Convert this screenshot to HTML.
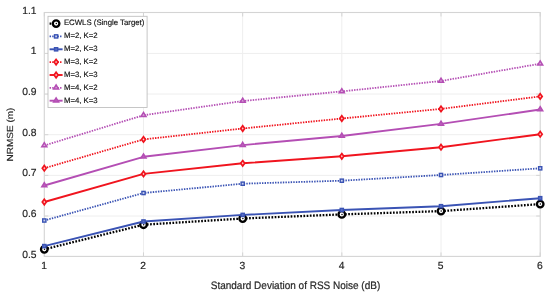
<!DOCTYPE html>
<html><head><meta charset="utf-8"><title>NRMSE vs Standard Deviation of RSS Noise</title>
<style>
html,body{margin:0;padding:0;background:#fff;}
body{width:550px;height:295px;overflow:hidden;}
svg{display:block;}
text{font-family:"Liberation Sans",Arial,sans-serif;fill:#262626;text-rendering:geometricPrecision;}
.tk{font-size:10.3px;stroke:#262626;stroke-width:0.2px;}
.tky{letter-spacing:0px;}
.ax{font-size:10px;stroke:#262626;stroke-width:0.18px;}
.lg{font-size:7.8px;fill:#111;stroke:#111;stroke-width:0.15px;}
</style></head><body>
<svg width="550" height="295" viewBox="0 0 550 295">
<rect width="550" height="295" fill="#fff"/>
<g stroke="#eeeeee" stroke-width="1"><line x1="44.3" y1="216.00" x2="540.2" y2="216.00"/><line x1="44.3" y1="175.35" x2="540.2" y2="175.35"/><line x1="44.3" y1="134.70" x2="540.2" y2="134.70"/><line x1="44.3" y1="94.05" x2="540.2" y2="94.05"/><line x1="44.3" y1="53.40" x2="540.2" y2="53.40"/><line x1="143.48" y1="12.5" x2="143.48" y2="256.4"/><line x1="242.66" y1="12.5" x2="242.66" y2="256.4"/><line x1="341.84" y1="12.5" x2="341.84" y2="256.4"/><line x1="441.02" y1="12.5" x2="441.02" y2="256.4"/></g>
<rect x="44.3" y="12.5" width="495.90000000000003" height="243.89999999999998" fill="none" stroke="#d4d4d4" stroke-width="1.1"/>
<g stroke="#d4d4d4" stroke-width="1"><line x1="44.3" y1="256.40" x2="48.3" y2="256.40"/><line x1="540.2" y1="256.40" x2="536.2" y2="256.40"/><line x1="44.3" y1="216.00" x2="48.3" y2="216.00"/><line x1="540.2" y1="216.00" x2="536.2" y2="216.00"/><line x1="44.3" y1="175.35" x2="48.3" y2="175.35"/><line x1="540.2" y1="175.35" x2="536.2" y2="175.35"/><line x1="44.3" y1="134.70" x2="48.3" y2="134.70"/><line x1="540.2" y1="134.70" x2="536.2" y2="134.70"/><line x1="44.3" y1="94.05" x2="48.3" y2="94.05"/><line x1="540.2" y1="94.05" x2="536.2" y2="94.05"/><line x1="44.3" y1="53.40" x2="48.3" y2="53.40"/><line x1="540.2" y1="53.40" x2="536.2" y2="53.40"/><line x1="44.3" y1="12.50" x2="48.3" y2="12.50"/><line x1="540.2" y1="12.50" x2="536.2" y2="12.50"/><line x1="44.30" y1="256.4" x2="44.30" y2="252.39999999999998"/><line x1="44.30" y1="12.5" x2="44.30" y2="16.5"/><line x1="143.48" y1="256.4" x2="143.48" y2="252.39999999999998"/><line x1="143.48" y1="12.5" x2="143.48" y2="16.5"/><line x1="242.66" y1="256.4" x2="242.66" y2="252.39999999999998"/><line x1="242.66" y1="12.5" x2="242.66" y2="16.5"/><line x1="341.84" y1="256.4" x2="341.84" y2="252.39999999999998"/><line x1="341.84" y1="12.5" x2="341.84" y2="16.5"/><line x1="441.02" y1="256.4" x2="441.02" y2="252.39999999999998"/><line x1="441.02" y1="12.5" x2="441.02" y2="16.5"/><line x1="540.20" y1="256.4" x2="540.20" y2="252.39999999999998"/><line x1="540.20" y1="12.5" x2="540.20" y2="16.5"/></g>
<text class="tk tky" x="36.5" y="257.55" text-anchor="end">0.5</text>
<text class="tk tky" x="36.5" y="216.90" text-anchor="end">0.6</text>
<text class="tk tky" x="36.5" y="176.25" text-anchor="end">0.7</text>
<text class="tk tky" x="36.5" y="135.60" text-anchor="end">0.8</text>
<text class="tk tky" x="36.5" y="94.95" text-anchor="end">0.9</text>
<text class="tk tky" x="36.5" y="54.30" text-anchor="end">1</text>
<text class="tk tky" x="36.5" y="13.65" text-anchor="end">1.1</text>
<text class="tk" x="44.0" y="269.0" text-anchor="middle">1</text>
<text class="tk" x="143.2" y="269.0" text-anchor="middle">2</text>
<text class="tk" x="242.4" y="269.0" text-anchor="middle">3</text>
<text class="tk" x="341.5" y="269.0" text-anchor="middle">4</text>
<text class="tk" x="440.7" y="269.0" text-anchor="middle">5</text>
<text class="tk" x="539.9" y="269.0" text-anchor="middle">6</text>
<text class="ax" transform="translate(295.5,288.75) scale(1,1.08)" text-anchor="middle">Standard Deviation of RSS Noise (dB)</text>
<text class="ax" transform="translate(13.1,134.5) rotate(-90) scale(1,0.88)" text-anchor="middle">NRMSE (m)</text>
<polyline points="44.3,249.3 143.5,224.7 242.7,218.5 341.8,214.4 441.0,211.1 540.2,204.1" fill="none" stroke="#000" stroke-width="2.3" stroke-dasharray="1.7 1.5" stroke-linejoin="round"/>
<circle cx="44.3" cy="249.3" r="3.3" fill="#fff" stroke="#000" stroke-width="2.3"/><circle cx="44.5" cy="249.3" r="0.75" fill="#000"/><circle cx="143.5" cy="224.7" r="3.3" fill="#fff" stroke="#000" stroke-width="2.3"/><circle cx="143.7" cy="224.7" r="0.75" fill="#000"/><circle cx="242.7" cy="218.5" r="3.3" fill="#fff" stroke="#000" stroke-width="2.3"/><circle cx="242.9" cy="218.5" r="0.75" fill="#000"/><circle cx="341.8" cy="214.4" r="3.3" fill="#fff" stroke="#000" stroke-width="2.3"/><circle cx="342.0" cy="214.4" r="0.75" fill="#000"/><circle cx="441.0" cy="211.1" r="3.3" fill="#fff" stroke="#000" stroke-width="2.3"/><circle cx="441.2" cy="211.1" r="0.75" fill="#000"/><circle cx="540.2" cy="204.1" r="3.3" fill="#fff" stroke="#000" stroke-width="2.3"/><circle cx="540.4" cy="204.1" r="0.75" fill="#000"/>
<polyline points="44.3,220.5 143.5,193.0 242.7,183.7 341.8,180.7 441.0,175.0 540.2,168.3" fill="none" stroke="#3a53b4" stroke-width="1.8" stroke-dasharray="1.44 1.17" stroke-linejoin="round"/>
<rect x="42.7" y="218.9" width="3.2" height="3.2" fill="#c9d1ee" stroke="#3a53b4" stroke-width="1.4"/><rect x="141.9" y="191.4" width="3.2" height="3.2" fill="#c9d1ee" stroke="#3a53b4" stroke-width="1.4"/><rect x="241.1" y="182.1" width="3.2" height="3.2" fill="#c9d1ee" stroke="#3a53b4" stroke-width="1.4"/><rect x="340.2" y="179.1" width="3.2" height="3.2" fill="#c9d1ee" stroke="#3a53b4" stroke-width="1.4"/><rect x="439.4" y="173.4" width="3.2" height="3.2" fill="#c9d1ee" stroke="#3a53b4" stroke-width="1.4"/><rect x="538.6" y="166.7" width="3.2" height="3.2" fill="#c9d1ee" stroke="#3a53b4" stroke-width="1.4"/>
<polyline points="44.3,246.1 143.5,221.5 242.7,214.9 341.8,210.0 441.0,206.2 540.2,198.2" fill="none" stroke="#3a53b4" stroke-width="1.9" stroke-linejoin="round"/>
<rect x="42.7" y="244.5" width="3.2" height="3.2" fill="#5a70c4" stroke="#3a53b4" stroke-width="1.4"/><rect x="141.9" y="219.9" width="3.2" height="3.2" fill="#5a70c4" stroke="#3a53b4" stroke-width="1.4"/><rect x="241.1" y="213.3" width="3.2" height="3.2" fill="#5a70c4" stroke="#3a53b4" stroke-width="1.4"/><rect x="340.2" y="208.4" width="3.2" height="3.2" fill="#5a70c4" stroke="#3a53b4" stroke-width="1.4"/><rect x="439.4" y="204.6" width="3.2" height="3.2" fill="#5a70c4" stroke="#3a53b4" stroke-width="1.4"/><rect x="538.6" y="196.6" width="3.2" height="3.2" fill="#5a70c4" stroke="#3a53b4" stroke-width="1.4"/>
<polyline points="44.3,168.2 143.5,139.4 242.7,128.5 341.8,118.5 441.0,108.9 540.2,96.4" fill="none" stroke="#f0141e" stroke-width="1.8" stroke-dasharray="1.44 1.17" stroke-linejoin="round"/>
<path d="M44.3 165.5L46.3 168.2L44.3 170.9L42.3 168.2Z" fill="#ffc8c8" stroke="#f0141e" stroke-width="1.7" stroke-linejoin="miter"/><path d="M143.5 136.7L145.5 139.4L143.5 142.1L141.5 139.4Z" fill="#ffc8c8" stroke="#f0141e" stroke-width="1.7" stroke-linejoin="miter"/><path d="M242.7 125.8L244.7 128.5L242.7 131.2L240.7 128.5Z" fill="#ffc8c8" stroke="#f0141e" stroke-width="1.7" stroke-linejoin="miter"/><path d="M341.8 115.8L343.8 118.5L341.8 121.2L339.8 118.5Z" fill="#ffc8c8" stroke="#f0141e" stroke-width="1.7" stroke-linejoin="miter"/><path d="M441.0 106.2L443.0 108.9L441.0 111.6L439.0 108.9Z" fill="#ffc8c8" stroke="#f0141e" stroke-width="1.7" stroke-linejoin="miter"/><path d="M540.2 93.7L542.2 96.4L540.2 99.1L538.2 96.4Z" fill="#ffc8c8" stroke="#f0141e" stroke-width="1.7" stroke-linejoin="miter"/>
<polyline points="44.3,202.0 143.5,173.9 242.7,163.3 341.8,156.3 441.0,147.2 540.2,134.2" fill="none" stroke="#f0141e" stroke-width="1.9" stroke-linejoin="round"/>
<path d="M44.3 199.3L46.3 202.0L44.3 204.7L42.3 202.0Z" fill="#ffc8c8" stroke="#f0141e" stroke-width="1.7" stroke-linejoin="miter"/><path d="M143.5 171.2L145.5 173.9L143.5 176.6L141.5 173.9Z" fill="#ffc8c8" stroke="#f0141e" stroke-width="1.7" stroke-linejoin="miter"/><path d="M242.7 160.6L244.7 163.3L242.7 166.0L240.7 163.3Z" fill="#ffc8c8" stroke="#f0141e" stroke-width="1.7" stroke-linejoin="miter"/><path d="M341.8 153.6L343.8 156.3L341.8 159.0L339.8 156.3Z" fill="#ffc8c8" stroke="#f0141e" stroke-width="1.7" stroke-linejoin="miter"/><path d="M441.0 144.5L443.0 147.2L441.0 149.9L439.0 147.2Z" fill="#ffc8c8" stroke="#f0141e" stroke-width="1.7" stroke-linejoin="miter"/><path d="M540.2 131.5L542.2 134.2L540.2 136.9L538.2 134.2Z" fill="#ffc8c8" stroke="#f0141e" stroke-width="1.7" stroke-linejoin="miter"/>
<polyline points="44.3,145.5 143.5,115.2 242.7,101.0 341.8,91.4 441.0,81.0 540.2,63.7" fill="none" stroke="#b44eb4" stroke-width="1.8" stroke-dasharray="1.44 1.17" stroke-linejoin="round"/>
<path d="M44.3 142.7L46.8 146.8L41.8 146.8Z" fill="#dcaedc" stroke="#b44eb4" stroke-width="1.5" stroke-linejoin="miter"/><path d="M143.5 112.4L146.0 116.5L141.0 116.5Z" fill="#dcaedc" stroke="#b44eb4" stroke-width="1.5" stroke-linejoin="miter"/><path d="M242.7 98.2L245.2 102.3L240.2 102.3Z" fill="#dcaedc" stroke="#b44eb4" stroke-width="1.5" stroke-linejoin="miter"/><path d="M341.8 88.6L344.3 92.7L339.3 92.7Z" fill="#dcaedc" stroke="#b44eb4" stroke-width="1.5" stroke-linejoin="miter"/><path d="M441.0 78.2L443.5 82.3L438.5 82.3Z" fill="#dcaedc" stroke="#b44eb4" stroke-width="1.5" stroke-linejoin="miter"/><path d="M540.2 60.9L542.7 65.0L537.7 65.0Z" fill="#dcaedc" stroke="#b44eb4" stroke-width="1.5" stroke-linejoin="miter"/>
<polyline points="44.3,185.5 143.5,156.8 242.7,145.1 341.8,136.0 441.0,123.9 540.2,109.5" fill="none" stroke="#b44eb4" stroke-width="1.9" stroke-linejoin="round"/>
<path d="M44.3 182.7L46.8 186.8L41.8 186.8Z" fill="#bc62bc" stroke="#b44eb4" stroke-width="1.5" stroke-linejoin="miter"/><path d="M143.5 154.0L146.0 158.1L141.0 158.1Z" fill="#bc62bc" stroke="#b44eb4" stroke-width="1.5" stroke-linejoin="miter"/><path d="M242.7 142.3L245.2 146.4L240.2 146.4Z" fill="#bc62bc" stroke="#b44eb4" stroke-width="1.5" stroke-linejoin="miter"/><path d="M341.8 133.2L344.3 137.3L339.3 137.3Z" fill="#bc62bc" stroke="#b44eb4" stroke-width="1.5" stroke-linejoin="miter"/><path d="M441.0 121.1L443.5 125.2L438.5 125.2Z" fill="#bc62bc" stroke="#b44eb4" stroke-width="1.5" stroke-linejoin="miter"/><path d="M540.2 106.7L542.7 110.8L537.7 110.8Z" fill="#bc62bc" stroke="#b44eb4" stroke-width="1.5" stroke-linejoin="miter"/>
<rect x="48.0" y="16.3" width="99.1" height="91.2" fill="#fff" stroke="#c0c0c0" stroke-width="0.9"/>
<line x1="49.6" y1="23.6" x2="60.0" y2="23.6" stroke="#000" stroke-width="2.3" stroke-dasharray="1.7 1.5"/>
<circle cx="56.1" cy="23.6" r="3.3" fill="#fff" stroke="#000" stroke-width="2.3"/><circle cx="56.3" cy="23.6" r="0.75" fill="#000"/>
<text class="lg" x="63.9" y="25.4">ECWLS (Single Target)</text>
<line x1="49.6" y1="36.4" x2="62.6" y2="36.4" stroke="#3a53b4" stroke-width="1.8" stroke-dasharray="1.44 1.17"/>
<rect x="54.5" y="34.8" width="3.2" height="3.2" fill="#c9d1ee" stroke="#3a53b4" stroke-width="1.4"/>
<text class="lg" x="63.9" y="38.2">M=2, K=2</text>
<line x1="49.6" y1="49.3" x2="62.6" y2="49.3" stroke="#3a53b4" stroke-width="1.9"/>
<rect x="54.5" y="47.7" width="3.2" height="3.2" fill="#5a70c4" stroke="#3a53b4" stroke-width="1.4"/>
<text class="lg" x="63.9" y="51.1">M=2, K=3</text>
<line x1="49.6" y1="62.1" x2="62.6" y2="62.1" stroke="#f0141e" stroke-width="1.8" stroke-dasharray="1.44 1.17"/>
<path d="M56.1 59.4L58.1 62.1L56.1 64.8L54.1 62.1Z" fill="#ffc8c8" stroke="#f0141e" stroke-width="1.7" stroke-linejoin="miter"/>
<text class="lg" x="63.9" y="63.9">M=3, K=2</text>
<line x1="49.6" y1="75.0" x2="62.6" y2="75.0" stroke="#f0141e" stroke-width="1.9"/>
<path d="M56.1 72.3L58.1 75.0L56.1 77.7L54.1 75.0Z" fill="#ffc8c8" stroke="#f0141e" stroke-width="1.7" stroke-linejoin="miter"/>
<text class="lg" x="63.9" y="76.8">M=3, K=3</text>
<line x1="49.6" y1="87.8" x2="62.6" y2="87.8" stroke="#b44eb4" stroke-width="1.8" stroke-dasharray="1.44 1.17"/>
<path d="M56.1 85.0L58.6 89.1L53.6 89.1Z" fill="#dcaedc" stroke="#b44eb4" stroke-width="1.5" stroke-linejoin="miter"/>
<text class="lg" x="63.9" y="89.6">M=4, K=2</text>
<line x1="49.6" y1="100.7" x2="62.6" y2="100.7" stroke="#b44eb4" stroke-width="1.9"/>
<path d="M56.1 97.9L58.6 102.0L53.6 102.0Z" fill="#bc62bc" stroke="#b44eb4" stroke-width="1.5" stroke-linejoin="miter"/>
<text class="lg" x="63.9" y="102.5">M=4, K=3</text>
</svg></body></html>
